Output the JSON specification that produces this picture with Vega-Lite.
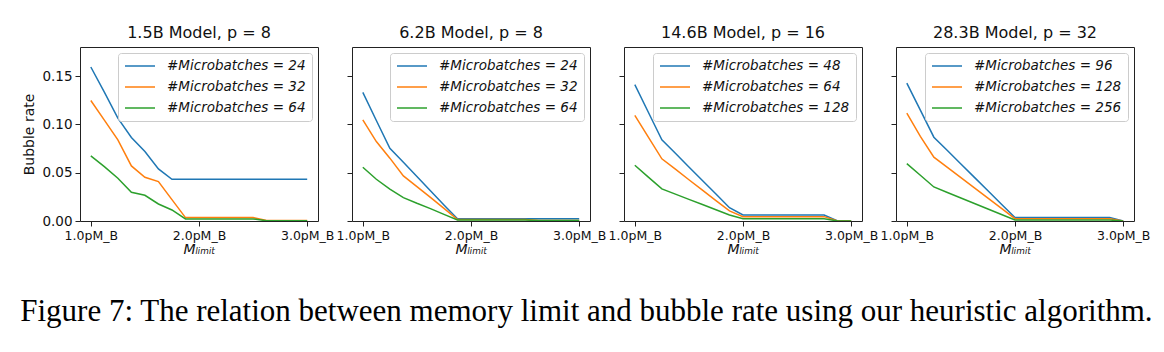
{
  "$schema": "https://vega.github.io/schema/vega-lite/v6.json",
  "padding": {"left": 19, "top": 24, "right": 5, "bottom": 5},
  "bounds": "flush",
  "config": {
    "font": "DejaVu Sans",
    "view": {"stroke": "#222", "strokeWidth": 1},
    "axis": {"grid": false, "domain": false, "tickColor": "#222", "tickSize": 5, "tickWidth": 1, "labelColor": "#111", "labelFontSize": 13.5, "labelPadding": 3, "titleFontSize": 14, "titleFontWeight": "normal", "titleColor": "#111"},
    "axisX": {"labelFontSize": 12.5},
    "title": {"fontSize": 16, "fontWeight": "normal", "offset": 6, "color": "#111"},
    "concat": {"spacing": 34}
  },
  "title": {"text": "Figure 7: The relation between memory limit and bubble rate using our heuristic algorithm.", "orient": "bottom", "anchor": "middle", "font": "Liberation Serif", "fontSize": 31, "fontWeight": "normal", "color": "#000", "offset": 40},
  "resolve": {"scale": {"color": "independent"}, "legend": {"color": "independent"}},
  "data": {"values": [
    {"p":1,"m":"24","x":1,"y":0.1593},{"p":1,"m":"24","x":1.125,"y":0.1334},{"p":1,"m":"24","x":1.25,"y":0.1064},{"p":1,"m":"24","x":1.375,"y":0.0864},{"p":1,"m":"24","x":1.5,"y":0.0719},{"p":1,"m":"24","x":1.625,"y":0.0539},{"p":1,"m":"24","x":1.75,"y":0.0432},{"p":1,"m":"24","x":1.875,"y":0.0432},{"p":1,"m":"24","x":2,"y":0.0432},{"p":1,"m":"24","x":2.125,"y":0.0432},{"p":1,"m":"24","x":2.25,"y":0.0432},{"p":1,"m":"24","x":2.375,"y":0.0432},{"p":1,"m":"24","x":2.5,"y":0.0432},{"p":1,"m":"24","x":2.625,"y":0.0432},{"p":1,"m":"24","x":2.75,"y":0.0432},{"p":1,"m":"24","x":2.875,"y":0.0432},{"p":1,"m":"24","x":3,"y":0.0432},
    {"p":1,"m":"32","x":1,"y":0.1247},{"p":1,"m":"32","x":1.125,"y":0.1044},{"p":1,"m":"32","x":1.25,"y":0.084},{"p":1,"m":"32","x":1.375,"y":0.057},{"p":1,"m":"32","x":1.5,"y":0.0453},{"p":1,"m":"32","x":1.625,"y":0.0408},{"p":1,"m":"32","x":1.75,"y":0.0221},{"p":1,"m":"32","x":1.875,"y":0.0035},{"p":1,"m":"32","x":2,"y":0.0035},{"p":1,"m":"32","x":2.125,"y":0.0035},{"p":1,"m":"32","x":2.25,"y":0.0035},{"p":1,"m":"32","x":2.375,"y":0.0035},{"p":1,"m":"32","x":2.5,"y":0.0035},{"p":1,"m":"32","x":2.625,"y":0.0005},{"p":1,"m":"32","x":2.75,"y":0.0005},{"p":1,"m":"32","x":2.875,"y":0.0005},{"p":1,"m":"32","x":3,"y":0.0005},
    {"p":1,"m":"64","x":1,"y":0.0674},{"p":1,"m":"64","x":1.125,"y":0.0563},{"p":1,"m":"64","x":1.25,"y":0.0442},{"p":1,"m":"64","x":1.375,"y":0.0297},{"p":1,"m":"64","x":1.5,"y":0.0266},{"p":1,"m":"64","x":1.625,"y":0.0176},{"p":1,"m":"64","x":1.75,"y":0.0114},{"p":1,"m":"64","x":1.875,"y":0.0021},{"p":1,"m":"64","x":2,"y":0.0021},{"p":1,"m":"64","x":2.125,"y":0.0021},{"p":1,"m":"64","x":2.25,"y":0.0021},{"p":1,"m":"64","x":2.375,"y":0.0021},{"p":1,"m":"64","x":2.5,"y":0.0021},{"p":1,"m":"64","x":2.625,"y":0.0003},{"p":1,"m":"64","x":2.75,"y":0.0003},{"p":1,"m":"64","x":2.875,"y":0.0003},{"p":1,"m":"64","x":3,"y":0.0003},

    {"p":2,"m":"24","x":1,"y":0.133},{"p":2,"m":"24","x":1.125,"y":0.104},{"p":2,"m":"24","x":1.25,"y":0.0753},{"p":2,"m":"24","x":1.375,"y":0.0608},{"p":2,"m":"24","x":1.5,"y":0.046},{"p":2,"m":"24","x":1.625,"y":0.0314},{"p":2,"m":"24","x":1.75,"y":0.0166},{"p":2,"m":"24","x":1.875,"y":0.0023},{"p":2,"m":"24","x":2,"y":0.0023},{"p":2,"m":"24","x":2.125,"y":0.0023},{"p":2,"m":"24","x":2.25,"y":0.0023},{"p":2,"m":"24","x":2.375,"y":0.0023},{"p":2,"m":"24","x":2.5,"y":0.0023},{"p":2,"m":"24","x":2.625,"y":0.0023},{"p":2,"m":"24","x":2.75,"y":0.0023},{"p":2,"m":"24","x":2.875,"y":0.0023},{"p":2,"m":"24","x":3,"y":0.0023},
    {"p":2,"m":"32","x":1,"y":0.1047},{"p":2,"m":"32","x":1.125,"y":0.0822},{"p":2,"m":"32","x":1.25,"y":0.065},{"p":2,"m":"32","x":1.375,"y":0.0466},{"p":2,"m":"32","x":1.5,"y":0.0355},{"p":2,"m":"32","x":1.625,"y":0.0245},{"p":2,"m":"32","x":1.75,"y":0.0131},{"p":2,"m":"32","x":1.875,"y":0.0015},{"p":2,"m":"32","x":2,"y":0.0015},{"p":2,"m":"32","x":2.125,"y":0.0015},{"p":2,"m":"32","x":2.25,"y":0.0015},{"p":2,"m":"32","x":2.375,"y":0.0015},{"p":2,"m":"32","x":2.5,"y":0.0015},{"p":2,"m":"32","x":2.625,"y":0.0005},{"p":2,"m":"32","x":2.75,"y":0.0005},{"p":2,"m":"32","x":2.875,"y":0.0005},{"p":2,"m":"32","x":3,"y":0.0005},
    {"p":2,"m":"64","x":1,"y":0.0556},{"p":2,"m":"64","x":1.125,"y":0.0432},{"p":2,"m":"64","x":1.25,"y":0.0329},{"p":2,"m":"64","x":1.375,"y":0.0242},{"p":2,"m":"64","x":1.5,"y":0.0183},{"p":2,"m":"64","x":1.625,"y":0.0128},{"p":2,"m":"64","x":1.75,"y":0.0069},{"p":2,"m":"64","x":1.875,"y":0.001},{"p":2,"m":"64","x":2,"y":0.001},{"p":2,"m":"64","x":2.125,"y":0.001},{"p":2,"m":"64","x":2.25,"y":0.001},{"p":2,"m":"64","x":2.375,"y":0.001},{"p":2,"m":"64","x":2.5,"y":0.001},{"p":2,"m":"64","x":2.625,"y":0.0005},{"p":2,"m":"64","x":2.75,"y":0.0005},{"p":2,"m":"64","x":2.875,"y":0.0005},{"p":2,"m":"64","x":3,"y":0.0005},

    {"p":3,"m":"48","x":1,"y":0.141},{"p":3,"m":"48","x":1.125,"y":0.1125},{"p":3,"m":"48","x":1.25,"y":0.084},{"p":3,"m":"48","x":1.375,"y":0.07},{"p":3,"m":"48","x":1.5,"y":0.0559},{"p":3,"m":"48","x":1.625,"y":0.0419},{"p":3,"m":"48","x":1.75,"y":0.0279},{"p":3,"m":"48","x":1.875,"y":0.0138},{"p":3,"m":"48","x":2,"y":0.0062},{"p":3,"m":"48","x":2.125,"y":0.0062},{"p":3,"m":"48","x":2.25,"y":0.0062},{"p":3,"m":"48","x":2.375,"y":0.0062},{"p":3,"m":"48","x":2.5,"y":0.0062},{"p":3,"m":"48","x":2.625,"y":0.0062},{"p":3,"m":"48","x":2.75,"y":0.0062},{"p":3,"m":"48","x":2.875,"y":0},{"p":3,"m":"48","x":3,"y":0},
    {"p":3,"m":"64","x":1,"y":0.1092},{"p":3,"m":"64","x":1.125,"y":0.0867},{"p":3,"m":"64","x":1.25,"y":0.0643},{"p":3,"m":"64","x":1.375,"y":0.0536},{"p":3,"m":"64","x":1.5,"y":0.0427},{"p":3,"m":"64","x":1.625,"y":0.0319},{"p":3,"m":"64","x":1.75,"y":0.0211},{"p":3,"m":"64","x":1.875,"y":0.0104},{"p":3,"m":"64","x":2,"y":0.0045},{"p":3,"m":"64","x":2.125,"y":0.0045},{"p":3,"m":"64","x":2.25,"y":0.0045},{"p":3,"m":"64","x":2.375,"y":0.0045},{"p":3,"m":"64","x":2.5,"y":0.0045},{"p":3,"m":"64","x":2.625,"y":0.0045},{"p":3,"m":"64","x":2.75,"y":0.0045},{"p":3,"m":"64","x":2.875,"y":0},{"p":3,"m":"64","x":3,"y":0},
    {"p":3,"m":"128","x":1,"y":0.0577},{"p":3,"m":"128","x":1.125,"y":0.0454},{"p":3,"m":"128","x":1.25,"y":0.0332},{"p":3,"m":"128","x":1.375,"y":0.0278},{"p":3,"m":"128","x":1.5,"y":0.0224},{"p":3,"m":"128","x":1.625,"y":0.017},{"p":3,"m":"128","x":1.75,"y":0.0116},{"p":3,"m":"128","x":1.875,"y":0.0062},{"p":3,"m":"128","x":2,"y":0.0024},{"p":3,"m":"128","x":2.125,"y":0.0024},{"p":3,"m":"128","x":2.25,"y":0.0024},{"p":3,"m":"128","x":2.375,"y":0.0024},{"p":3,"m":"128","x":2.5,"y":0.0024},{"p":3,"m":"128","x":2.625,"y":0.0024},{"p":3,"m":"128","x":2.75,"y":0.0024},{"p":3,"m":"128","x":2.875,"y":0},{"p":3,"m":"128","x":3,"y":0},

    {"p":4,"m":"96","x":1,"y":0.1427},{"p":4,"m":"96","x":1.125,"y":0.1147},{"p":4,"m":"96","x":1.25,"y":0.0867},{"p":4,"m":"96","x":1.375,"y":0.0729},{"p":4,"m":"96","x":1.5,"y":0.059},{"p":4,"m":"96","x":1.625,"y":0.0451},{"p":4,"m":"96","x":1.75,"y":0.0312},{"p":4,"m":"96","x":1.875,"y":0.0173},{"p":4,"m":"96","x":2,"y":0.0035},{"p":4,"m":"96","x":2.125,"y":0.0035},{"p":4,"m":"96","x":2.25,"y":0.0035},{"p":4,"m":"96","x":2.375,"y":0.0035},{"p":4,"m":"96","x":2.5,"y":0.0035},{"p":4,"m":"96","x":2.625,"y":0.0035},{"p":4,"m":"96","x":2.75,"y":0.0035},{"p":4,"m":"96","x":2.875,"y":0.0035},{"p":4,"m":"96","x":3,"y":0},
    {"p":4,"m":"128","x":1,"y":0.1116},{"p":4,"m":"128","x":1.125,"y":0.0875},{"p":4,"m":"128","x":1.25,"y":0.066},{"p":4,"m":"128","x":1.375,"y":0.0554},{"p":4,"m":"128","x":1.5,"y":0.0448},{"p":4,"m":"128","x":1.625,"y":0.0342},{"p":4,"m":"128","x":1.75,"y":0.0236},{"p":4,"m":"128","x":1.875,"y":0.013},{"p":4,"m":"128","x":2,"y":0.0024},{"p":4,"m":"128","x":2.125,"y":0.0024},{"p":4,"m":"128","x":2.25,"y":0.0024},{"p":4,"m":"128","x":2.375,"y":0.0024},{"p":4,"m":"128","x":2.5,"y":0.0024},{"p":4,"m":"128","x":2.625,"y":0.0024},{"p":4,"m":"128","x":2.75,"y":0.0024},{"p":4,"m":"128","x":2.875,"y":0.0024},{"p":4,"m":"128","x":3,"y":0},
    {"p":4,"m":"256","x":1,"y":0.0594},{"p":4,"m":"256","x":1.125,"y":0.0473},{"p":4,"m":"256","x":1.25,"y":0.0352},{"p":4,"m":"256","x":1.375,"y":0.0295},{"p":4,"m":"256","x":1.5,"y":0.0238},{"p":4,"m":"256","x":1.625,"y":0.0181},{"p":4,"m":"256","x":1.75,"y":0.0124},{"p":4,"m":"256","x":1.875,"y":0.0067},{"p":4,"m":"256","x":2,"y":0.001},{"p":4,"m":"256","x":2.125,"y":0.001},{"p":4,"m":"256","x":2.25,"y":0.001},{"p":4,"m":"256","x":2.375,"y":0.001},{"p":4,"m":"256","x":2.5,"y":0.001},{"p":4,"m":"256","x":2.625,"y":0.001},{"p":4,"m":"256","x":2.75,"y":0.001},{"p":4,"m":"256","x":2.875,"y":0.001},{"p":4,"m":"256","x":3,"y":0}
  ]},
  "hconcat": [
    {
      "title": "1.5B Model, p = 8",
      "width": 238, "height": 174,
      "transform": [{"filter": "datum.p == 1"}],
      "mark": {"type": "line", "strokeWidth": 1.5, "clip": true},
      "encoding": {
        "x": {"field": "x", "type": "quantitative", "scale": {"domain": [0.9, 3.1], "nice": false, "zero": false}, "axis": {"values": [1, 2, 3], "labelExpr": "format(datum.value, '.1f') + 'pM_B'", "title": "Mₗᵢₘᵢₜ", "titleFontStyle": "italic", "titlePadding": 1}},
        "y": {"field": "y", "type": "quantitative", "scale": {"domain": [0, 0.18], "nice": false}, "axis": {"values": [0, 0.05, 0.1, 0.15], "format": ".2f", "title": "Bubble rate", "titlePadding": 5}},
        "color": {"field": "m", "type": "nominal", "scale": {"domain": ["24", "32", "64"], "range": ["#1f77b4", "#ff7f0e", "#2ca02c"]},
          "legend": {"title": null, "orient": "top-right", "offset": 6, "labelExpr": "'#Microbatches = ' + datum.label", "symbolType": "M-1,0H4", "symbolSize": 144, "symbolStrokeWidth": 1.5, "labelOffset": 29, "labelFontSize": 13.5, "labelFontStyle": "italic", "labelColor": "#111", "rowPadding": 7, "padding": 6, "strokeColor": "#cccccc", "fillColor": "rgba(255,255,255,0.8)", "cornerRadius": 3, "labelLimit": 200}}
      }
    },
    {
      "title": "6.2B Model, p = 8",
      "width": 238, "height": 174,
      "transform": [{"filter": "datum.p == 2"}],
      "mark": {"type": "line", "strokeWidth": 1.5, "clip": true},
      "encoding": {
        "x": {"field": "x", "type": "quantitative", "scale": {"domain": [0.9, 3.1], "nice": false, "zero": false}, "axis": {"values": [1, 2, 3], "labelExpr": "format(datum.value, '.1f') + 'pM_B'", "title": "Mₗᵢₘᵢₜ", "titleFontStyle": "italic", "titlePadding": 1}},
        "y": {"field": "y", "type": "quantitative", "scale": {"domain": [0, 0.18], "nice": false}, "axis": {"values": [0, 0.05, 0.1, 0.15], "labels": false, "title": null}},
        "color": {"field": "m", "type": "nominal", "scale": {"domain": ["24", "32", "64"], "range": ["#1f77b4", "#ff7f0e", "#2ca02c"]},
          "legend": {"title": null, "orient": "top-right", "offset": 6, "labelExpr": "'#Microbatches = ' + datum.label", "symbolType": "M-1,0H4", "symbolSize": 144, "symbolStrokeWidth": 1.5, "labelOffset": 29, "labelFontSize": 13.5, "labelFontStyle": "italic", "labelColor": "#111", "rowPadding": 7, "padding": 6, "strokeColor": "#cccccc", "fillColor": "rgba(255,255,255,0.8)", "cornerRadius": 3, "labelLimit": 200}}
      }
    },
    {
      "title": "14.6B Model, p = 16",
      "width": 238, "height": 174,
      "transform": [{"filter": "datum.p == 3"}],
      "mark": {"type": "line", "strokeWidth": 1.5, "clip": true},
      "encoding": {
        "x": {"field": "x", "type": "quantitative", "scale": {"domain": [0.9, 3.1], "nice": false, "zero": false}, "axis": {"values": [1, 2, 3], "labelExpr": "format(datum.value, '.1f') + 'pM_B'", "title": "Mₗᵢₘᵢₜ", "titleFontStyle": "italic", "titlePadding": 1}},
        "y": {"field": "y", "type": "quantitative", "scale": {"domain": [0, 0.18], "nice": false}, "axis": {"values": [0, 0.05, 0.1, 0.15], "labels": false, "title": null}},
        "color": {"field": "m", "type": "nominal", "scale": {"domain": ["48", "64", "128"], "range": ["#1f77b4", "#ff7f0e", "#2ca02c"]},
          "legend": {"title": null, "orient": "top-right", "offset": 6, "labelExpr": "'#Microbatches = ' + datum.label", "symbolType": "M-1,0H4", "symbolSize": 144, "symbolStrokeWidth": 1.5, "labelOffset": 29, "labelFontSize": 13.5, "labelFontStyle": "italic", "labelColor": "#111", "rowPadding": 7, "padding": 6, "strokeColor": "#cccccc", "fillColor": "rgba(255,255,255,0.8)", "cornerRadius": 3, "labelLimit": 200}}
      }
    },
    {
      "title": "28.3B Model, p = 32",
      "width": 238, "height": 174,
      "transform": [{"filter": "datum.p == 4"}],
      "mark": {"type": "line", "strokeWidth": 1.5, "clip": true},
      "encoding": {
        "x": {"field": "x", "type": "quantitative", "scale": {"domain": [0.9, 3.1], "nice": false, "zero": false}, "axis": {"values": [1, 2, 3], "labelExpr": "format(datum.value, '.1f') + 'pM_B'", "title": "Mₗᵢₘᵢₜ", "titleFontStyle": "italic", "titlePadding": 1}},
        "y": {"field": "y", "type": "quantitative", "scale": {"domain": [0, 0.18], "nice": false}, "axis": {"values": [0, 0.05, 0.1, 0.15], "labels": false, "title": null}},
        "color": {"field": "m", "type": "nominal", "scale": {"domain": ["96", "128", "256"], "range": ["#1f77b4", "#ff7f0e", "#2ca02c"]},
          "legend": {"title": null, "orient": "top-right", "offset": 6, "labelExpr": "'#Microbatches = ' + datum.label", "symbolType": "M-1,0H4", "symbolSize": 144, "symbolStrokeWidth": 1.5, "labelOffset": 29, "labelFontSize": 13.5, "labelFontStyle": "italic", "labelColor": "#111", "rowPadding": 7, "padding": 6, "strokeColor": "#cccccc", "fillColor": "rgba(255,255,255,0.8)", "cornerRadius": 3, "labelLimit": 200}}
      }
    }
  ]
}
